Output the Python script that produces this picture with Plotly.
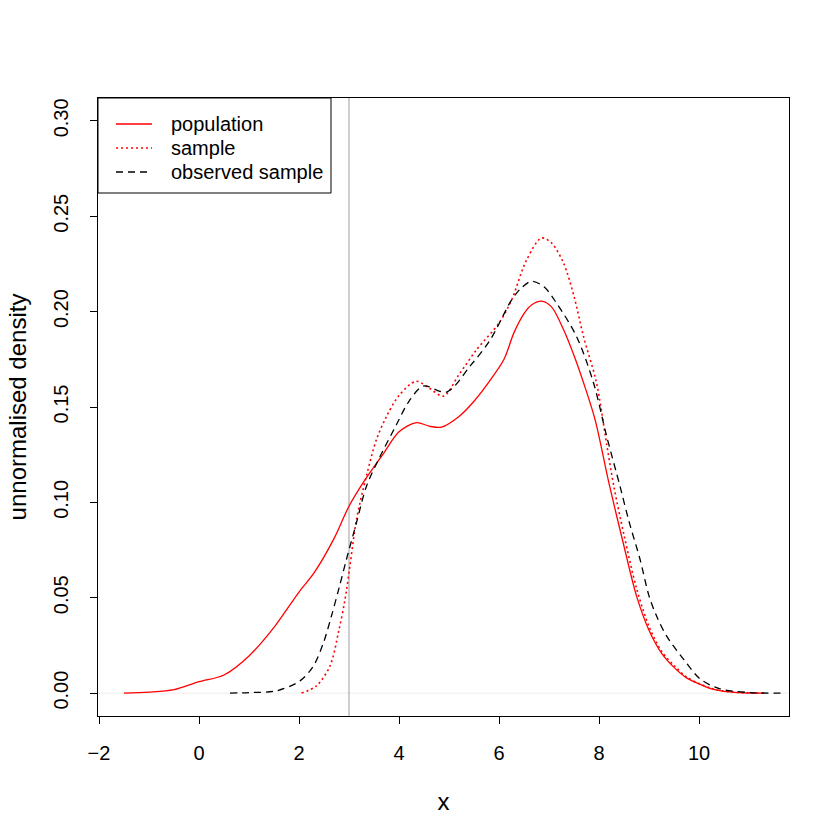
import plotly.graph_objects as go

# population density (red solid)
pop_x = [-1.5, -1.0, -0.5, 0.0, 0.5, 1.0, 1.5, 2.0, 2.3, 2.7, 3.0, 3.3, 3.7, 4.0, 4.35, 4.6, 4.85,
         5.2, 5.5, 5.85, 6.1, 6.3, 6.5, 6.65, 6.85, 7.05, 7.29, 7.5, 7.7, 7.92, 8.2, 8.5, 8.75,
         9.0, 9.25, 9.5, 9.75, 10.0, 10.25, 10.5, 10.8, 11.3]
pop_y = [0.0, 0.0005, 0.0018, 0.0060, 0.0095, 0.0195, 0.0345, 0.053, 0.063, 0.081, 0.098, 0.111,
         0.126, 0.137, 0.1418, 0.1400, 0.1394, 0.145, 0.153, 0.165, 0.175, 0.189, 0.199, 0.2035,
         0.2055, 0.2025, 0.1906, 0.177, 0.162, 0.1435, 0.110, 0.077, 0.051, 0.033, 0.021, 0.0135,
         0.008, 0.0048, 0.0022, 0.0009, 0.0003, 0.0]

# sample density (red dotted)
smp_x = [2.05, 2.35, 2.62, 2.79, 2.92, 3.02, 3.15, 3.35, 3.55, 3.75, 4.0, 4.34, 4.6, 4.89, 5.2,
         5.55, 6.0, 6.25, 6.55, 6.85, 7.05, 7.29, 7.5, 7.69, 7.95, 8.15, 8.3, 8.5, 8.75, 9.0,
         9.25, 9.5, 9.75, 10.0, 10.25, 10.5, 10.9, 11.35]
smp_y = [0.0, 0.0038, 0.0143, 0.032, 0.049, 0.067, 0.091, 0.114, 0.133, 0.145, 0.156, 0.1635,
         0.160, 0.1557, 0.167, 0.180, 0.194, 0.206, 0.227, 0.2386, 0.236, 0.2255, 0.208, 0.187,
         0.1627, 0.131, 0.108, 0.083, 0.055, 0.035, 0.022, 0.0145, 0.0085, 0.005, 0.0025, 0.001,
         0.0002, 0.0]

# observed sample density (black dashed)
obs_x = [0.62, 1.0, 1.55, 2.02, 2.29, 2.49, 2.65, 2.8, 2.95, 3.15, 3.35, 3.62, 3.95, 4.2, 4.49,
         4.95, 5.42, 5.82, 6.25, 6.45, 6.65, 6.9, 7.15, 7.55, 7.89, 8.15, 8.42, 8.6, 8.82, 9.0,
         9.15, 9.35, 9.69, 10.02, 10.42, 11.0, 11.68]
obs_y = [0.0, 0.0003, 0.0012, 0.0064, 0.0143, 0.0265, 0.0405, 0.055, 0.0702, 0.0894, 0.1085,
         0.124, 0.1408, 0.153, 0.161, 0.1578, 0.1714, 0.185, 0.206, 0.2125, 0.2159, 0.213, 0.2045,
         0.187, 0.1627, 0.135, 0.1085, 0.090, 0.0702, 0.051, 0.0405, 0.030, 0.0178, 0.0075,
         0.0022, 0.0003, 0.0]

cutoff = 3
x_ticks = [-2, 0, 2, 4, 6, 8, 10]
y_ticks = [0.00, 0.05, 0.10, 0.15, 0.20, 0.25, 0.30]
y_tick_text = ["0.00", "0.05", "0.10", "0.15", "0.20", "0.25", "0.30"]
series_names = ["population", "sample", "observed sample"]
series_colors = ["red", "red", "black"]
series_dash = ["solid", "2px,3px", "7px,5px"]
series_width = [1.3, 1.6, 1.3]

FONT = "Liberation Sans, Arial, sans-serif"
FS = 20

fig = go.Figure()
for xs, ys, name, col, dash, w in zip([pop_x, smp_x, obs_x], [pop_y, smp_y, obs_y],
                                       series_names, series_colors, series_dash, series_width):
    fig.add_trace(go.Scatter(x=xs, y=ys, mode="lines", name=name, showlegend=False,
                             line=dict(color=col, width=w, dash=dash, shape="spline",
                                       smoothing=0.9)))

# horizontal baseline at 0 and vertical cutoff line
fig.add_hline(y=0, line=dict(color="#ececec", width=1), layer="below")
fig.add_vline(x=cutoff, line=dict(color="#b3b3b3", width=1.3), layer="below")

# legend box (R-style, top-left corner of the plotting region)
PL, PR, PT, PB = 98, 789, 98, 716  # plot area in pixels


def px(xp):
    return (xp - PL) / (PR - PL)


def py(yp):
    return (PB - yp) / (PB - PT)


fig.add_shape(type="rect", xref="paper", yref="paper", x0=0, x1=px(331), y0=py(193), y1=1,
              line=dict(color="black", width=1), fillcolor="white", layer="above")
legend_rows = [124, 148, 172]
for row, name, col, dash, w in zip(legend_rows, series_names, series_colors, series_dash,
                                   series_width):
    fig.add_shape(type="line", xref="paper", yref="paper", x0=px(116), x1=px(152),
                  y0=py(row), y1=py(row), line=dict(color=col, width=w, dash=dash),
                  layer="above")
    fig.add_annotation(xref="paper", yref="paper", x=px(169), y=py(row), text=name,
                       showarrow=False, xanchor="left", yanchor="middle",
                       font=dict(family=FONT, size=FS, color="black"))

fig.update_layout(
    width=840, height=840,
    margin=dict(l=PL, r=840 - PR, t=PT, b=840 - PB),
    paper_bgcolor="white", plot_bgcolor="white",
    font=dict(family=FONT, size=FS, color="black"),
    showlegend=False,
    xaxis=dict(range=[-2.02, 11.8], tickvals=x_ticks, ticks="outside", ticklen=7,
               tickcolor="black", showgrid=False, zeroline=False,
               showline=True, linecolor="black", linewidth=1, mirror=True,
               title=dict(text="x", standoff=30), ticklabelstandoff=12),
    yaxis=dict(range=[-0.012, 0.312], tickvals=y_ticks, ticktext=y_tick_text,
               ticks="outside", ticklen=7, tickcolor="black", tickangle=-90,
               showgrid=False, zeroline=False,
               showline=True, linecolor="black", linewidth=1, mirror=True,
               title=dict(text="unnormalised density", standoff=16), ticklabelstandoff=14),
)

fig.write_html("out.html")
